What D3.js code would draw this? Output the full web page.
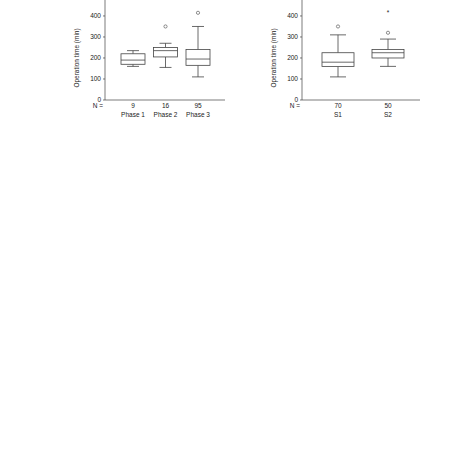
<!DOCTYPE html><html><head><script src="https://d3js.org/d3.v7.min.js"></script>
<style>body{margin:0;background:#fff}text{font-family:"Liberation Sans",Arial,sans-serif;font-size:6.5px;fill:#222}</style></head><body><svg id="c" width="474" height="474"></svg>
<script>
const phaseCats=["Phase 1","Phase 2","Phase 3"], phaseN=["9","16","95"];
const phaseStats=[[160,170,190,220,235],[155,205,235,250,270],[110,165,195,240,350]];
const phaseOut=[[],[[350,"o"]],[[415,"o"]]];
const sCats=["S1","S2"], sN=["70","50"];
const sStats=[[110,160,180,225,310],[160,200,225,240,290]];
const sOut=[[[350,"o"]],[[320,"o"],[415,"*"]]];
const yTicks=[0,100,200,300,400];
const svg=d3.select("#c");
function panel(x0,x1,cats,ns,stats,outs,bw,c0,c1){
  const g=svg.append("g");
  const y=d3.scaleLinear().domain([0,476]).range([100,0]);
  const x=d3.scalePoint().domain(cats).range([x0+c0,x0+c1]);
  g.append("line").attr("x1",x0).attr("x2",x0).attr("y1",0).attr("y2",100).attr("stroke","#444").attr("stroke-width",0.7);
  g.append("line").attr("x1",x0).attr("x2",x1).attr("y1",100).attr("y2",100).attr("stroke","#444").attr("stroke-width",0.7);
  yTicks.forEach(t=>{g.append("line").attr("x1",x0-2).attr("x2",x0).attr("y1",y(t)).attr("y2",y(t)).attr("stroke","#444").attr("stroke-width",0.7);
    g.append("text").attr("x",x0-4).attr("y",y(t)+2).attr("text-anchor","end").text(t);});
  g.append("text").attr("transform",`translate(${x0-26},${y(200)}) rotate(-90)`).attr("text-anchor","middle").text("Operation time (min)");
  g.append("text").attr("x",x0-2).attr("y",108).attr("text-anchor","end").text("N =");
  cats.forEach((c,i)=>{
    const cx=x(c), s=stats[i], w=bw;
    const L=(a,b,c2,d)=>g.append("line").attr("x1",a).attr("x2",b).attr("y1",c2).attr("y2",d).attr("stroke","#444").attr("stroke-width",0.8);
    L(cx,cx,y(s[0]),y(s[1]));L(cx,cx,y(s[3]),y(s[4]));
    L(cx-w/4,cx+w/4,y(s[0]),y(s[0]));L(cx-w/4,cx+w/4,y(s[4]),y(s[4]));
    g.append("rect").attr("x",cx-w/2).attr("width",w).attr("y",y(s[3])).attr("height",y(s[1])-y(s[3])).attr("fill","#fff").attr("stroke","#444").attr("stroke-width",0.8);
    L(cx-w/2,cx+w/2,y(s[2]),y(s[2]));
    outs[i].forEach(o=>{ if(o[1]=="o") g.append("circle").attr("cx",cx).attr("cy",y(o[0])).attr("r",1.6).attr("fill","none").attr("stroke","#444").attr("stroke-width",0.6);
      else g.append("text").attr("x",cx).attr("y",y(o[0])+2.5).attr("text-anchor","middle").text("*");});
    g.append("text").attr("x",cx).attr("y",108).attr("text-anchor","middle").text(ns[i]);
    g.append("text").attr("x",cx).attr("y",117).attr("text-anchor","middle").text(c);
  });
}
panel(105,225,phaseCats,phaseN,phaseStats,phaseOut,24,28,93);
panel(302,420,sCats,sN,sStats,sOut,32,36,86);
</script></body></html>
